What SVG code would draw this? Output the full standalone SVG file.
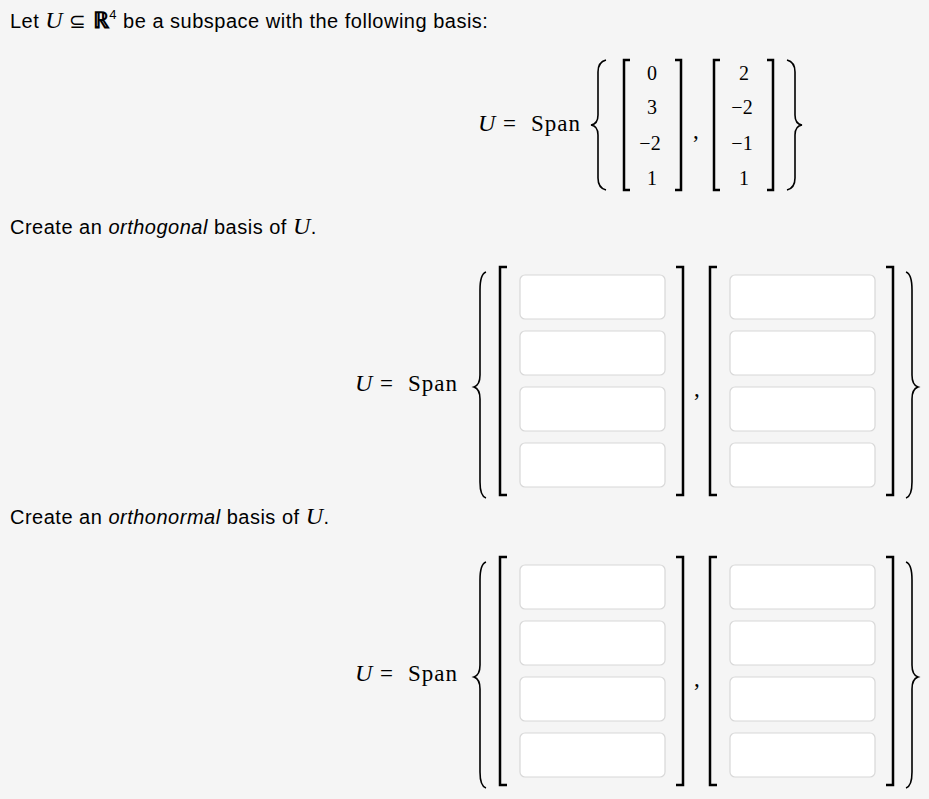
<svg xmlns="http://www.w3.org/2000/svg" width="929" height="799" viewBox="0 0 929 799">
<style>
.t{font-family:"Liberation Sans",Arial,sans-serif;font-size:20px;letter-spacing:0.5px;fill:#000}
.m{font-family:"Liberation Serif",serif;font-size:23px;fill:#000}
.sp{font-family:"Liberation Serif",serif;font-size:23px;letter-spacing:1px;fill:#000}
.mi{font-family:"Liberation Serif",serif;font-size:24px;font-style:italic;fill:#000}
.n{font-family:"Liberation Serif",serif;font-size:20px;fill:#000;text-anchor:middle}
.b{fill:none;stroke:#000;stroke-width:2.5}
.br{fill:none;stroke:#000;stroke-width:1.6}
.box{fill:#fff;stroke:#d8d8d8;stroke-width:1.2}
</style>
<rect width="929" height="799" fill="#f5f5f5"/>
<text class="t" x="10" y="28">Let <tspan class="mi">U</tspan> ⊆ <tspan class="m" font-weight="bold">ℝ</tspan><tspan font-size="13" dy="-9">4</tspan><tspan dy="9"> be a subspace with the following basis:</tspan></text>
<text class="t" x="10" y="234">Create an <tspan font-style="italic">orthogonal</tspan> basis of <tspan class="mi">U</tspan>.</text>
<text class="t" x="10" y="524">Create an <tspan font-style="italic">orthonormal</tspan> basis of <tspan class="mi">U</tspan>.</text>
<g id="top">
<text class="mi" x="478" y="131">U</text><text class="m" x="503" y="131">=</text><text class="sp" x="531" y="131">Span</text>
<path class="br" d="M606,60 Q598,62 598,72 L598,115 Q598,124 591,125 Q598,126 598,135 L598,178 Q598,188 606,190"/>
<path class="b" d="M630,60 H624 V190 H630 M675,60 H681 V190 H675"/>
<path class="b" d="M720,60 H714 V190 H720 M767,60 H773 V190 H767"/>
<path class="br" d="M787,60 Q795,62 795,72 L795,115 Q795,124 802,125 Q795,126 795,135 L795,178 Q795,188 787,190"/>
<text class="m" x="693" y="138">,</text>
<text class="n" x="652" y="80">0</text><text class="n" x="652" y="114">3</text><text class="n" x="650" y="150">−2</text><text class="n" x="652" y="185">1</text>
<text class="n" x="744" y="80">2</text><text class="n" x="742" y="114">−2</text><text class="n" x="742" y="150">−1</text><text class="n" x="744" y="185">1</text>
</g>
<g id="sec1">
<text class="mi" x="355" y="391">U</text><text class="m" x="380" y="391">=</text><text class="sp" x="408" y="391">Span</text>
<path class="br" d="M486,272 Q480,274 480,290 L480,375 Q480,385 474,387 Q480,389 480,399 L480,482 Q480,496 486,498"/>
<path class="b" d="M507,267 H500 V495 H507 M676,267 H683 V495 H676"/>
<text class="m" x="694" y="396">,</text>
<path class="b" d="M717,267 H710 V495 H717 M886,267 H893 V495 H886"/>
<path class="br" d="M906,272 Q912,274 912,290 L912,375 Q912,385 918,387 Q912,389 912,399 L912,482 Q912,496 906,498"/>
<rect class="box" x="520" y="275" width="145" height="44" rx="5"/><rect class="box" x="520" y="331" width="145" height="44" rx="5"/><rect class="box" x="520" y="387" width="145" height="44" rx="5"/><rect class="box" x="520" y="443" width="145" height="44" rx="5"/>
<rect class="box" x="730" y="275" width="145" height="44" rx="5"/><rect class="box" x="730" y="331" width="145" height="44" rx="5"/><rect class="box" x="730" y="387" width="145" height="44" rx="5"/><rect class="box" x="730" y="443" width="145" height="44" rx="5"/>
</g>
<g id="sec2" transform="translate(0,290)">
<text class="mi" x="355" y="391">U</text><text class="m" x="380" y="391">=</text><text class="sp" x="408" y="391">Span</text>
<path class="br" d="M486,272 Q480,274 480,290 L480,375 Q480,385 474,387 Q480,389 480,399 L480,482 Q480,496 486,498"/>
<path class="b" d="M507,267 H500 V495 H507 M676,267 H683 V495 H676"/>
<text class="m" x="694" y="396">,</text>
<path class="b" d="M717,267 H710 V495 H717 M886,267 H893 V495 H886"/>
<path class="br" d="M906,272 Q912,274 912,290 L912,375 Q912,385 918,387 Q912,389 912,399 L912,482 Q912,496 906,498"/>
<rect class="box" x="520" y="275" width="145" height="44" rx="5"/><rect class="box" x="520" y="331" width="145" height="44" rx="5"/><rect class="box" x="520" y="387" width="145" height="44" rx="5"/><rect class="box" x="520" y="443" width="145" height="44" rx="5"/>
<rect class="box" x="730" y="275" width="145" height="44" rx="5"/><rect class="box" x="730" y="331" width="145" height="44" rx="5"/><rect class="box" x="730" y="387" width="145" height="44" rx="5"/><rect class="box" x="730" y="443" width="145" height="44" rx="5"/>
</g>
</svg>
